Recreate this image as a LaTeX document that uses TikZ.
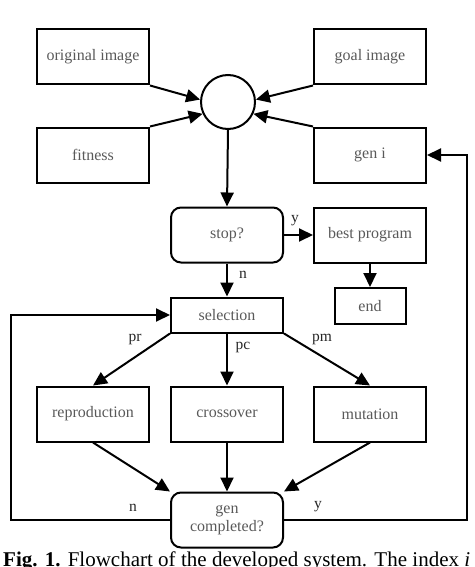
\documentclass[tikz,border=0pt]{standalone}
\usepackage{fontspec}
\setmainfont{Liberation Serif}
\usetikzlibrary{arrows.meta}
\begin{document}
\begin{tikzpicture}[x=1pt,y=-1pt,
  caixa/.style={draw,line width=2pt,minimum width=112pt,minimum height=55pt,
    inner sep=0pt,text=black!65,font=\fontsize{16}{18}\selectfont},
  decisao/.style={caixa,rounded corners=10pt},
  seta/.style={line width=2pt,-{Triangle[length=14pt,width=13pt]}},
  rotulo/.style={inner sep=0pt,text=black!85,font=\fontsize{15.5}{17}\selectfont}]
  \useasboundingbox (0,0) rectangle (474,567);
  % Entradas
  \node[caixa] (orig) at (93,57) {original image};
  \node[caixa] (goal) at (370,57) {goal image};
  \node[caixa] (fit) at (93,155) {fitness};
  \node[caixa] (geni) at (370,155) {gen i};
  \node[draw,circle,line width=2pt,minimum size=54pt,inner sep=0pt] (junta) at (228,102) {};
  % Decisoes
  \node[decisao] (stop) at (227,235) {stop?};
  \node[caixa] (best) at (370,235) {best program};
  \node[caixa,minimum width=71pt,minimum height=36pt] (fim) at (370,306) {end};
  \node[caixa,minimum height=35pt] (selec) at (227,315) {selection};
  % Operadores
  \node[caixa] (repro) at (93,414) {reproduction};
  \node[caixa] (cross) at (227,414) {crossover};
  \node[caixa] (mut) at (370,414) {mutation};
  \node[decisao,align=center] (gencomp) at (227,520) {gen\\completed?};
  % Setas
  \draw[seta] (orig.south east) -- (junta.175);
  \draw[seta] (fit.north east) -- (junta.205);
  \draw[seta] (goal.south west) -- (junta.5);
  \draw[seta] (geni.north west) -- (junta.-25);
  \draw[seta] (junta.south) -- (stop.north);
  \draw[seta] (stop.east) -- (best.west);
  \draw[seta] (best.south) -- (fim.north);
  \draw[seta] (stop.south) -- (selec.north);
  \draw[seta] (selec.south west) -- (repro.north);
  \draw[seta] (selec.south) -- (cross.north);
  \draw[seta] (selec.south east) -- (mut.north);
  \draw[seta] (repro.south) -- (gencomp.north west);
  \draw[seta] (cross.south) -- (gencomp.north);
  \draw[seta] (mut.south) -- (gencomp.north east);
  \draw[seta] (gencomp.west) -- ++(-159,0) |- (selec.west);
  \draw[seta] (gencomp.east) -- ++(183,0) |- (geni.east);
  % Legendas
  \node[rotulo] (ly1) at (295,221) {y};
  \node[rotulo] (ln1) at (243,275) {n};
  \node[rotulo] (lpr) at (135,339) {pr};
  \node[rotulo] (lpc) at (243,347) {pc};
  \node[rotulo] (lpm) at (322,339) {pm};
  \node[rotulo] (ln2) at (133,508) {n};
  \node[rotulo] (ly2) at (318,507) {y};
  \node[anchor=base west,inner sep=0pt,font=\fontsize{21}{24}\selectfont] (capt) at (3,566)
    {\makebox[467pt][s]{\textbf{Fig. 1.} Flowchart of the developed system. The index \textit{i}}};
\end{tikzpicture}
\end{document}
